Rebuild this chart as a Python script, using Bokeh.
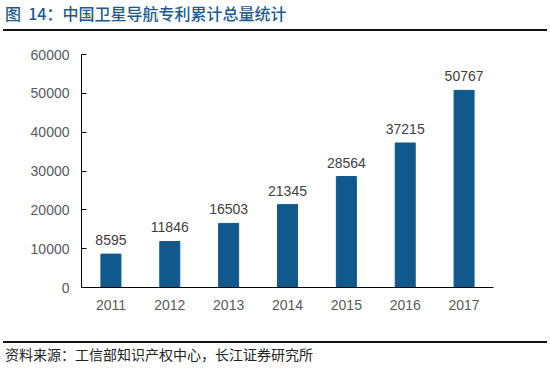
from bokeh.plotting import figure
from bokeh.models import ColumnDataSource, Div, FactorRange, FixedTicker
from bokeh.layouts import column
from bokeh.embed import file_html
from bokeh.resources import INLINE
from bokeh.core.properties import value

years = ["2011", "2012", "2013", "2014", "2015", "2016", "2017"]
patents = [8595, 11846, 16503, 21345, 28564, 37215, 50767]
y_ticks = [0, 10000, 20000, 30000, 40000, 50000, 60000]

title_text = "图&nbsp;&nbsp;14：中国卫星导航专利累计总量统计"
source_text = "资料来源：工信部知识产权中心，长江证券研究所"

src = ColumnDataSource(dict(x=years, y=patents, label=[str(v) for v in patents]))

title = Div(text=title_text, width=544, height=31, margin=(0, 0, 0, 3),
            styles={"font-family": "'Noto Sans CJK SC', sans-serif", "font-size": "16px",
                    "font-weight": "500", "color": "#1d5b8d", "border-bottom": "2px solid #111",
                    "box-sizing": "border-box", "line-height": "19px", "padding-top": "4px",
                    "padding-left": "2px", "width": "544px", "height": "31px",
                    "white-space": "nowrap"})

p = figure(width=542, height=310, x_range=FactorRange(*years, range_padding=0),
           y_range=(0, 60000), output_backend="svg", toolbar_location=None,
           min_border_left=81, min_border_right=49, min_border_top=23, min_border_bottom=54,
           margin=(0, 0, 0, 0))
p.vbar(x="x", top="y", width=0.34, source=src, color="#11598c")
p.text(x="x", y="y", text="label", source=src, y_offset=-9, text_align="center",
       text_baseline="bottom", text_font=value("Liberation Sans"), text_font_size="14px",
       text_color="#404040")

p.outline_line_color = None
p.xgrid.grid_line_color = None
p.ygrid.grid_line_color = None
p.background_fill_color = "white"

p.yaxis.ticker = FixedTicker(ticks=y_ticks)
p.yaxis.major_tick_in = 5
p.yaxis.major_tick_out = 0
p.yaxis.minor_tick_line_color = None
p.yaxis.axis_line_color = "black"
p.yaxis.major_tick_line_color = "black"
p.yaxis.major_label_text_font = "Liberation Sans"
p.yaxis.major_label_text_font_size = "14px"
p.yaxis.major_label_text_color = "#595959"
p.yaxis.major_label_standoff = 12

p.xaxis.major_tick_line_color = None
p.xaxis.minor_tick_line_color = None
p.xaxis.axis_line_color = "black"
p.xaxis.major_label_text_font = "Liberation Sans"
p.xaxis.major_label_text_font_size = "14px"
p.xaxis.major_label_text_color = "#595959"
p.xaxis.major_label_standoff = 6

source = Div(text=source_text, width=544, height=24, margin=(0, 0, 0, 3),
             styles={"font-family": "'Noto Sans CJK SC', sans-serif", "font-size": "14px",
                     "color": "#222", "border-top": "2px solid #111", "box-sizing": "border-box",
                     "padding-top": "3px", "padding-left": "2px", "line-height": "17px",
                     "width": "544px", "height": "24px", "white-space": "nowrap"})

layout = column(title, p, source, spacing=0, margin=(0, 0, 0, 0))
open("out.html", "w").write(file_html(layout, INLINE))
